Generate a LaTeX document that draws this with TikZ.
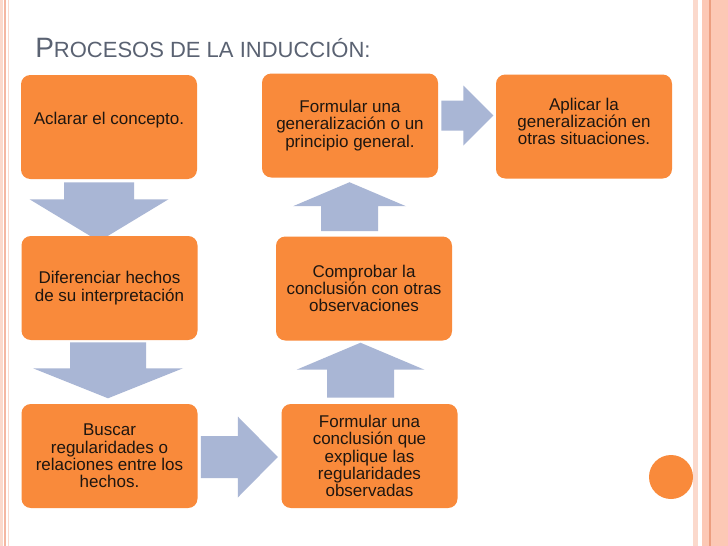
\documentclass[tikz,border=0pt]{standalone}
\usepackage{fontspec}
\setmainfont{Liberation Sans}
\usetikzlibrary{calc,backgrounds}
\definecolor{boxor}{HTML}{F98A3B}
\definecolor{arrbl}{HTML}{A9B6D5}
\definecolor{titlec}{HTML}{5A6272}
\definecolor{txtc}{HTML}{1E1610}
\definecolor{pinkA}{HTML}{FBD9CC}
\definecolor{pinkB}{HTML}{F4B7A2}
\definecolor{pinkC}{HTML}{FCC8B5}
\definecolor{pinkD}{HTML}{EC9E80}
% #1 tail coord, #2 dx, #3 dy, #4 half shaft, #5 shaft len, #6 half head, #7 tip len
\newcommand\blockarrow[7]{%
\fill[blk] ($(#1)+({-(#3)*(#4)},{(#2)*(#4)})$)
 -- ($(#1)+({-(#3)*(#4)+(#2)*(#5)},{(#2)*(#4)+(#3)*(#5)})$)
 -- ($(#1)+({-(#3)*(#6)+(#2)*(#5)},{(#2)*(#6)+(#3)*(#5)})$)
 -- ($(#1)+({(#2)*(#7)},{(#3)*(#7)})$)
 -- ($(#1)+({(#3)*(#6)+(#2)*(#5)},{-(#2)*(#6)+(#3)*(#5)})$)
 -- ($(#1)+({(#3)*(#4)+(#2)*(#5)},{-(#2)*(#4)+(#3)*(#5)})$)
 -- ($(#1)+({(#3)*(#4)},{-(#2)*(#4)})$) -- cycle;}
\begin{document}
\begin{tikzpicture}[x=0.75pt,y=-0.75pt,
  stepbox/.style={fill=boxor, rounded corners=7pt, minimum width=132pt,
    minimum height=78pt, align=center, text=txtc,
    font=\fontsize{12.75}{13}\selectfont, inner sep=2pt},
  blk/.style={fill=arrbl}]
\useasboundingbox (0,0) rectangle (728,546);
% title
\node[anchor=base west, text=titlec, inner sep=0] (title) at (35,57)
  {\fontsize{21}{21}\selectfont P\fontsize{16.5}{16.5}\selectfont ROCESOS DE LA INDUCCIÓN:};
% boxes
\node[stepbox, text depth=13.2pt] (b1) at (109,127) {Aclarar el concepto.};
\node[stepbox] (b2) at (109.5,288) {Diferenciar hechos\\de su interpretación};
\node[stepbox] (b3) at (109.5,456) {Buscar\\regularidades o\\relaciones entre los\\hechos.};
\node[stepbox] (b4) at (369.5,456) {Formular una\\conclusión que\\explique las\\regularidades\\observadas};
\node[stepbox] (b5) at (364,288.5) {Comprobar la\\conclusión con otras\\observaciones};
\node[stepbox] (b6) at (350,125.5) {Formular una\\generalización o un\\principio general.};
\node[stepbox, text depth=7.5pt] (b7) at (584,126.5) {Aplicar la\\generalización en\\otras situaciones.};
% dot
\node[circle, fill=boxor, minimum size=33pt, inner sep=0] (dot) at (671,477) {};
% block arrows tails
\coordinate (t1) at ($(b1.south)+(-10,3)$);
\coordinate (t2) at ($(b2.south)+(-1.5,2)$);
\coordinate (t3) at ($(b3.east)+(3,1)$);
\coordinate (t4) at ($(b4.north)+(-9,-6)$);
\coordinate (t5) at ($(b5.north)+(-14.5,-5)$);
\coordinate (t6) at ($(b6.east)+(3,-10)$);
\begin{pgfonlayer}{background}
\fill[white] (0,0) rectangle (728,546);
% side bands
\fill[pinkA] (0,0) rectangle (3,546);
\fill[pinkB] (4,0) rectangle (5.5,546);
\fill[pinkA] (8,0) rectangle (9,546);
\fill[pinkA] (693,0) rectangle (698,546);
\fill[pinkC] (702,0) rectangle (728,546);
\fill[pinkD] (709,0) rectangle (710.5,546);
\blockarrow{t1}{0}{1}{35}{17}{69.5}{59}
\blockarrow{t2}{0}{1}{38}{26}{75}{56}
\blockarrow{t3}{1}{0}{21}{37}{40.5}{77}
\blockarrow{t4}{0}{-1}{33.5}{28}{64}{55}
\blockarrow{t5}{0}{-1}{28.5}{25}{56.5}{49}
\blockarrow{t6}{1}{0}{15}{22}{30}{52}
\end{pgfonlayer}
\end{tikzpicture}
\end{document}
